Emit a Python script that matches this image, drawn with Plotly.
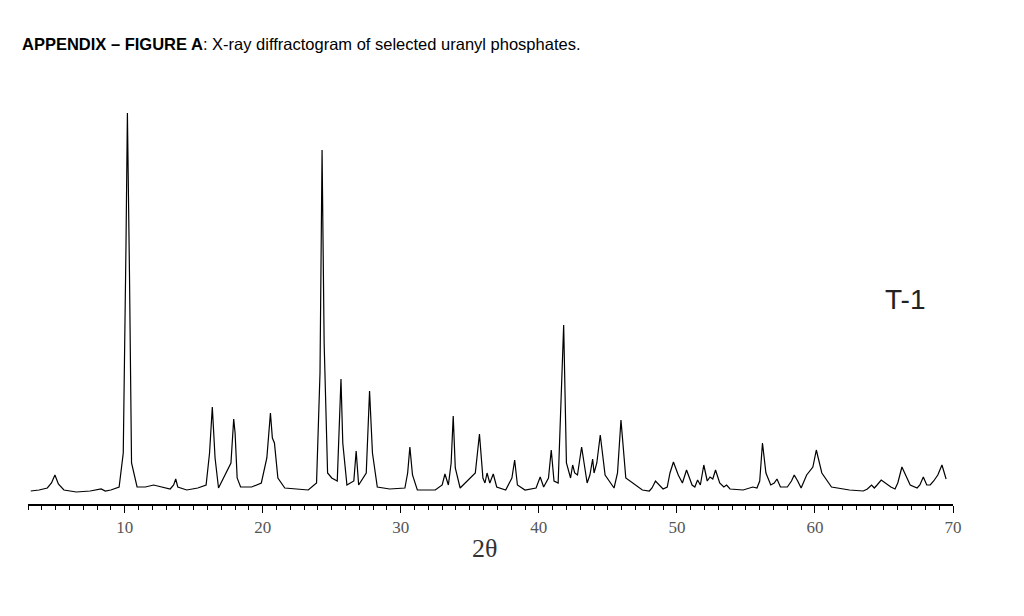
import plotly.graph_objects as go

# Diffractogram trace: 2theta and intensity (arbitrary units, baseline ~0)
two_theta = [3.2, 3.8, 4.4, 4.7, 4.95, 5.2, 5.6, 6.5, 7.5, 8.3, 8.6, 9.0, 9.6, 9.9, 10.1, 10.2, 10.35, 10.5, 10.9,
             11.5, 12.1, 12.7, 13.3, 13.55, 13.7, 13.85, 14.5, 15.3, 15.9, 16.15, 16.35, 16.55, 16.8, 17.7, 17.9, 18.0,
             18.15, 18.4, 19.2, 19.9, 20.3, 20.56, 20.7, 20.85, 21.1, 21.6, 22.5, 23.3, 23.9, 24.15, 24.3, 24.45, 24.7,
             25.0, 25.4, 25.55, 25.67, 25.8, 26.1, 26.6, 26.77, 26.95, 27.5, 27.74, 27.95, 28.3, 29.2, 30.3, 30.5,
             30.66, 30.85, 31.2, 32.5, 33.0, 33.2, 33.45, 33.65, 33.8, 33.95, 34.3, 35.4, 35.7, 35.95, 36.1, 36.25,
             36.45, 36.7, 36.95, 37.6, 38.05, 38.25, 38.45, 39.0, 39.8, 40.1, 40.35, 40.7, 40.9, 41.1, 41.4, 41.6, 41.8,
             42.0, 42.3, 42.45, 42.6, 42.8, 43.1, 43.5, 43.7, 43.9, 44.0, 44.2, 44.45, 44.8, 45.45, 45.7, 45.95, 46.3,
             47.5, 48.0, 48.2, 48.45, 49.0, 49.3, 49.5, 49.75, 50.1, 50.4, 50.7, 51.1, 51.3, 51.5, 51.7, 51.95, 52.2,
             52.4, 52.6, 52.8, 53.1, 53.4, 53.6, 53.85, 54.8, 55.5, 55.8, 56.0, 56.2, 56.45, 56.8, 57.05, 57.25, 57.5,
             58.0, 58.3, 58.5, 58.75, 59.0, 59.4, 59.85, 60.1, 60.5, 61.2, 62.5, 63.5, 63.8, 64.1, 64.3, 64.5, 64.8,
             65.5, 65.8, 66.0, 66.3, 66.9, 67.4, 67.6, 67.85, 68.1, 68.35, 68.6, 68.9, 69.2, 69.5]
intensity = [2, 3, 5, 10, 18, 9, 3, 1, 2, 4, 2, 3, 6, 40, 250, 380, 220, 30, 6,
             6, 8, 6, 4, 8, 14, 6, 3, 5, 8, 40, 86, 35, 5, 30, 74, 60, 15, 6, 6, 10, 35, 80, 55, 50, 15, 5, 4, 3,
             10, 120, 343, 150, 20, 15, 12, 60, 114, 50, 8, 12, 42, 8, 20, 102, 40, 6, 4, 5, 20, 46, 18, 3, 3, 8, 19,
             8, 30, 77, 25, 5, 20, 59, 15, 10, 20, 10, 19, 6, 3, 15, 33, 8, 3, 5, 16, 6, 15, 43, 12, 10, 80, 168, 30,
             15, 28, 20, 18, 46, 10, 18, 34, 20, 30, 58, 18, 5, 20, 73, 15, 3, 2, 5, 12, 4, 6, 20, 31, 18, 10, 23, 8,
             6, 13, 8, 28, 12, 16, 14, 23, 10, 6, 8, 4, 3, 6, 5, 12, 50, 20, 8, 10, 14, 6, 6, 12, 18, 12, 5, 18, 26,
             43, 20, 6, 3, 2, 4, 8, 5, 8, 13, 6, 4, 10, 26, 8, 5, 8, 16, 8, 8, 12, 18, 28, 14, 4]

x_tick_vals = [10, 20, 30, 40, 50, 60, 70]
x_tick_text = ["10", "20", "30", "40", "50", "60", "70"]

fig = go.Figure()
fig.add_trace(go.Scatter(x=two_theta, y=intensity, mode="lines",
                         line=dict(color="black", width=1.2), hoverinfo="skip"))

fig.update_layout(
    width=1024, height=616,
    margin=dict(l=20, r=79, t=92, b=120),
    paper_bgcolor="white", plot_bgcolor="white",
    showlegend=False,
    xaxis=dict(range=[3, 70], tickvals=x_tick_vals, ticktext=x_tick_text,
               showgrid=False, zeroline=False, showline=True, linecolor="black", linewidth=1.5,
               ticks="outside", ticklen=7, tickcolor="black",
               minor=dict(dtick=1, ticks="outside", ticklen=4, tickcolor="black"),
               tickfont=dict(family="Liberation Serif", size=17, color="#555")),
    yaxis=dict(range=[-11, 393], visible=False),
    annotations=[
        dict(text="<b>APPENDIX – FIGURE A</b>: X-ray diffractogram of selected uranyl phosphates.",
             xref="paper", yref="paper", x=-0.0086, y=1.139, xanchor="left", yanchor="middle",
             showarrow=False, font=dict(family="Liberation Sans", size=16.5, color="black")),
        dict(text="2θ", xref="paper", yref="paper", x=0.494, y=-0.109, xanchor="center", yanchor="middle",
             showarrow=False, font=dict(family="Liberation Serif", size=26, color="#333")),
        dict(text="T-1", xref="paper", yref="paper", x=0.948, y=0.505, xanchor="center", yanchor="middle",
             showarrow=False, font=dict(family="Liberation Sans", size=28, color="#222")),
    ],
)

fig.write_html("out.html")
